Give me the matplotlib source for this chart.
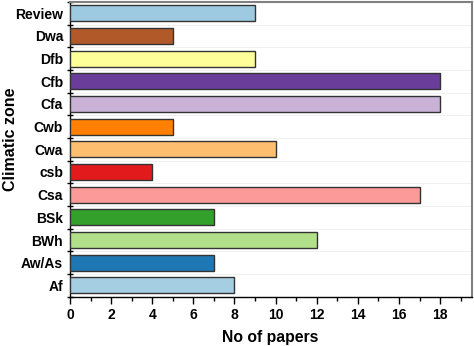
import numpy as np
import matplotlib
matplotlib.use("Agg")
import matplotlib.pyplot as plt
from matplotlib.ticker import MultipleLocator, FixedLocator

zones = ['Af', 'Aw/As', 'BWh', 'BSk', 'Csa', 'csb', 'Cwa', 'Cwb', 'Cfa', 'Cfb', 'Dfb', 'Dwa', 'Review']
papers = [8, 7, 12, 7, 17, 4, 10, 5, 18, 18, 9, 5, 9]
colors = ['#a6cee3', '#1f78b4', '#b2df8a', '#33a02c', '#fb9a99', '#e31a1c', '#fdbf6f',
          '#ff7f00', '#cab2d6', '#6a3d9a', '#ffff99', '#b15928', '#9ecae1']

plt.rcParams['font.family'] = ['Liberation Sans', 'DejaVu Sans']
plt.rcParams['font.weight'] = 'bold'

fig = plt.figure(figsize=(4.74, 3.46), dpi=100)
ax = fig.add_axes([0.1477, 0.1425, 0.848, 0.852])

y = np.arange(len(zones))
ax.barh(y, papers, height=0.7, color=colors, edgecolor='#333333', linewidth=1.0, zorder=3)

ax.set_xlim(0, 19.55)
ax.set_ylim(-0.5, len(zones) - 0.5)
ax.set_yticks(y)
ax.set_yticklabels(zones, fontsize=10, fontweight='bold')
ax.yaxis.set_minor_locator(FixedLocator(np.arange(-0.5, len(zones), 1.0)))
ax.tick_params(axis='y', which='major', length=0, pad=5)
ax.tick_params(axis='y', which='minor', length=4, direction='inout', width=1)

ax.xaxis.set_major_locator(MultipleLocator(2))
ax.xaxis.set_minor_locator(MultipleLocator(1))
ax.tick_params(axis='x', which='major', length=5, width=1, labelsize=10, pad=3)
ax.tick_params(axis='x', which='minor', length=3, width=1)
for lab in ax.get_xticklabels():
    lab.set_fontweight('bold')

ax.grid(axis='y', which='minor', color='#eeeeee', linewidth=0.6, zorder=0)

for s in ['left', 'bottom']:
    ax.spines[s].set_color('black')
    ax.spines[s].set_linewidth(1.0)
for s in ['top', 'right']:
    ax.spines[s].set_color('#808080')
    ax.spines[s].set_linewidth(1.5)

ax.set_xlabel('No of papers', fontsize=11.3, fontweight='bold')
ax.set_ylabel('Climatic zone', fontsize=11.5, fontweight='bold')
ax.xaxis.set_label_coords(0.4975, -0.113)
ax.yaxis.set_label_coords(-0.13, 0.535)

fig.savefig('out.png', dpi=100)
